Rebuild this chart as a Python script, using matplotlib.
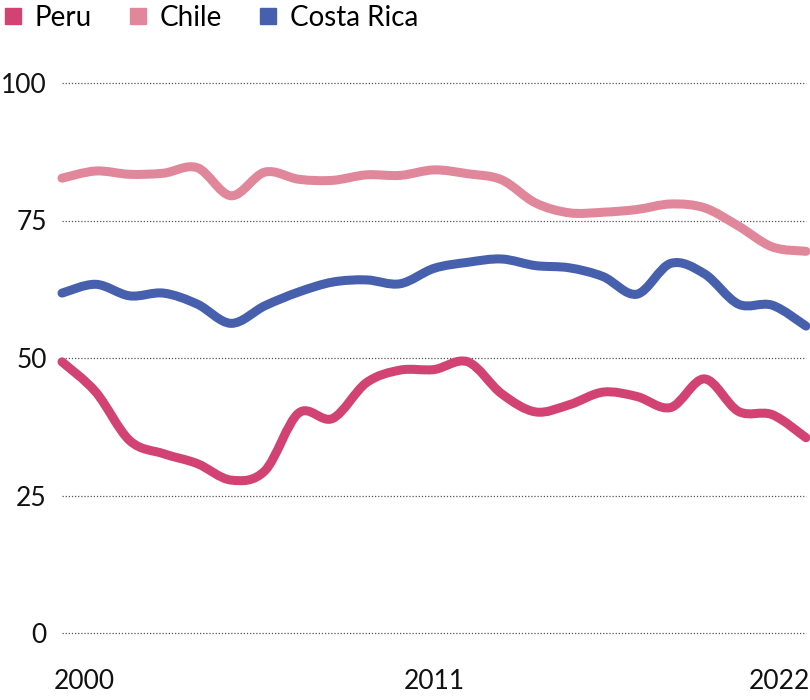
import numpy as np
import matplotlib.pyplot as plt
import matplotlib.transforms as mtransforms
from matplotlib.path import Path
from matplotlib.patches import PathPatch
from matplotlib.lines import Line2D

# Data (share, %)
years = list(range(2000, 2023))
peru = [49.3, 43.8, 35.0, 32.6, 30.8, 27.8, 29.5, 40.0, 39.0, 45.5, 47.8, 47.9,
        49.3, 43.5, 40.2, 41.5, 43.8, 43.0, 41.0, 46.2, 40.3, 39.7, 35.5]
chile = [82.7, 84.0, 83.4, 83.6, 84.6, 79.5, 83.8, 82.5, 82.3, 83.3, 83.2, 84.2,
         83.5, 82.4, 78.2, 76.4, 76.5, 77.0, 78.0, 77.3, 74.0, 70.2, 69.4]
costa_rica = [61.8, 63.4, 61.3, 61.8, 59.8, 56.3, 59.5, 62.0, 63.8, 64.2, 63.5, 66.3,
              67.4, 68.0, 66.8, 66.4, 64.8, 61.6, 67.2, 65.3, 59.8, 59.6, 55.8]

series = ['Peru', 'Chile', 'Costa Rica']
colors = ['#D24373', '#E0879C', '#4660AE']
y_ticks = [0, 25, 50, 75, 100]
x_ticks = [2000, 2011, 2022]


def smooth_path(x, y):
    # Catmull-Rom curve through the points, drawn as cubic Bezier segments
    x = np.asarray(x, float)
    y = np.asarray(y, float)
    pts = np.column_stack([x, y])
    verts = [pts[0]]
    codes = [Path.MOVETO]
    n = len(pts)
    for i in range(n - 1):
        p0 = pts[max(i - 1, 0)]
        p1 = pts[i]
        p2 = pts[i + 1]
        p3 = pts[min(i + 2, n - 1)]
        c1 = p1 + (p2 - p0) / 6
        c2 = p2 - (p3 - p1) / 6
        verts += [c1, c2, p2]
        codes += [Path.CURVE4] * 3
    return Path(verts, codes)


fig = plt.figure(figsize=(8.1, 7.0), dpi=100)
plt.rcParams['font.family'] = ['Lato', 'DejaVu Sans']
ax = fig.add_axes([62 / 810, 67 / 700, 744 / 810, 550 / 700])

for vals, c in zip([peru, chile, costa_rica], colors):
    patch = PathPatch(smooth_path(years, vals), facecolor='none', edgecolor=c,
                      lw=6.5, capstyle='round', joinstyle='round', clip_on=False)
    ax.add_patch(patch)

ax.set_xlim(2000, 2022)
ax.set_ylim(0, 100)

ax.set_yticks(y_ticks)
ax.set_xticks(x_ticks)
ax.grid(axis='y', color='#555555', linestyle=(0, (1, 1.5)), linewidth=0.9)
for gl in ax.get_ygridlines():
    gl.set_clip_on(False)
ax.set_axisbelow(True)
for s in ax.spines.values():
    s.set_visible(False)
ax.tick_params(length=0, labelsize=19, colors='#111111')
ax.tick_params(axis='y', pad=11)
ax.tick_params(axis='x', pad=26)

xlabels = ax.get_xticklabels()
xlabels[0].set_ha('left')
xlabels[0].set_transform(xlabels[0].get_transform() +
                         mtransforms.ScaledTranslation(-8 / 100, 0, fig.dpi_scale_trans))
xlabels[-1].set_ha('right')
xlabels[-1].set_transform(xlabels[-1].get_transform() +
                          mtransforms.ScaledTranslation(4 / 100, 0, fig.dpi_scale_trans))

handles = [Line2D([], [], marker='s', linestyle='none', markersize=12,
                  color=c) for c in colors]
fig.legend(handles, series, loc='upper left', bbox_to_anchor=(0.0, 0.997), ncol=3,
           frameon=False, fontsize=20, handlelength=0.7, handletextpad=0.45,
           columnspacing=1.3, borderaxespad=0, borderpad=0.1)

fig.savefig('out.png', dpi=100)
